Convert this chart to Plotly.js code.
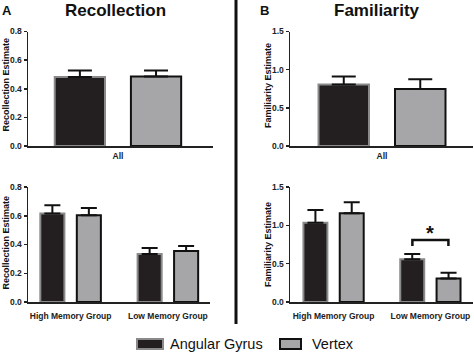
<!DOCTYPE html>
<html><head><meta charset="utf-8">
<script src="https://cdn.plot.ly/plotly-3.0.1.min.js"></script>
<style>body{margin:0;background:#fff}#c{width:474px;height:353px}</style>
</head><body><div id="c"></div>
<script>
// ---- data ----
const seriesNames = ["Angular Gyrus", "Vertex"];
const catAll = ["All"];
const catGroup = ["High Memory Group", "Low Memory Group"];
// Recollection, all
const recAllAG = [0.482];
const recAllV = [0.486];
const recAllErrAG = [0.046];
const recAllErrV = [0.042];
// Familiarity, all
const famAllAG = [0.805];
const famAllV = [0.747];
const famAllErrAG = [0.104];
const famAllErrV = [0.127];
// Recollection, by group
const recGrpAG = [0.615, 0.334];
const recGrpV = [0.603, 0.355];
const recGrpErrAG = [0.058, 0.042];
const recGrpErrV = [0.051, 0.035];
// Familiarity, by group
const famGrpAG = [1.035, 0.556];
const famGrpV = [1.158, 0.306];
const famGrpErrAG = [0.165, 0.069];
const famGrpErrV = [0.142, 0.074];

// ---- styles ----
const W = 474, H = 353;
const px = v => v / W, py = v => 1 - v / H;
const agStyle = {color: "#231f20", line: {color: "#8a8a8a", width: 2}};
const vStyle = {color: "#a6a6a8", line: {color: "#111", width: 2}};

function bars(x, y, err, name, style, xa, ya, capw) {
  return {
    type: "bar", x: x, y: y, name: name, xaxis: xa, yaxis: ya,
    marker: style, showlegend: false,
    error_y: {type: "data", array: err, arrayminus: err.map(() => 0), symmetric: false,
              color: "#111", thickness: 2, width: capw}
  };
}

const data = [
  bars(catAll, recAllAG, recAllErrAG, seriesNames[0], agStyle, "x", "y", 12),
  bars(catAll, recAllV, recAllErrV, seriesNames[1], vStyle, "x", "y", 12),
  bars(catAll, famAllAG, famAllErrAG, seriesNames[0], agStyle, "x2", "y2", 12),
  bars(catAll, famAllV, famAllErrV, seriesNames[1], vStyle, "x2", "y2", 12),
  bars(catGroup, recGrpAG, recGrpErrAG, seriesNames[0], agStyle, "x3", "y3", 8),
  bars(catGroup, recGrpV, recGrpErrV, seriesNames[1], vStyle, "x3", "y3", 8),
  bars(catGroup, famGrpAG, famGrpErrAG, seriesNames[0], agStyle, "x4", "y4", 8),
  bars(catGroup, famGrpV, famGrpErrV, seriesNames[1], vStyle, "x4", "y4", 8)
];

const fontB = "Liberation Sans, Arial, sans-serif";
function xax(domain, range, anchor, standoff) {
  return {domain: domain, range: range, anchor: anchor, type: "category",
    showline: true, linecolor: "#222", linewidth: 1.5, ticks: "", showgrid: false,
    zeroline: false, fixedrange: true, ticklabelstandoff: standoff,
    tickfont: {family: fontB, size: 8.5, color: "#222", weight: "bold"}};
}
function yax(domain, range, dtick, anchor) {
  return {domain: domain, range: range, dtick: dtick, tick0: 0, anchor: anchor,
    tickformat: ".1f", showline: true, linecolor: "#222", linewidth: 1.5,
    ticks: "outside", ticklen: 3, tickwidth: 1.5, tickcolor: "#222",
    showgrid: false, zeroline: false, fixedrange: true,
    tickfont: {family: fontB, size: 8.5, color: "#222", weight: "bold"}};
}

const topY = [py(146), py(31.5)];
const botY = [py(302), py(187)];

const ann = [];
function txt(x, y, t, size, bold, angle, xanchor) {
  ann.push({xref: "paper", yref: "paper", x: px(x), y: py(y), text: t, showarrow: false,
    textangle: angle || 0, xanchor: xanchor || "center", yanchor: "middle",
    font: {family: fontB, size: size, color: "#111", weight: bold ? "bold" : "normal"}});
}
txt(115, 11, "Recollection", 17, true);
txt(377, 11, "Familiarity", 17, true);
txt(0, 11, "A", 13, true, 0, "left");
txt(258, 11, "B", 13, true, 0, "left");
txt(5.5, 85, "Recollection Estimate", 9, true, -90);
txt(268, 86, "Familiarity Estimate", 9, true, -90);
txt(5.5, 243, "Recollection Estimate", 9, true, -90);
txt(268, 245, "Familiarity Estimate", 9, true, -90);
// significance star
ann.push({xref: "x4", yref: "y4", x: 1, y: 0.90, text: "*", showarrow: false,
  font: {family: fontB, size: 20, color: "#111", weight: "bold"}, yanchor: "middle"});
// legend text
txt(168, 344, seriesNames[0], 14.5, false, 0, "left");
txt(310, 344, seriesNames[1], 14.5, false, 0, "left");

const shapes = [
  // divider
  {type: "line", xref: "paper", yref: "paper", x0: px(236), x1: px(236), y0: py(0), y1: py(324),
   line: {color: "#111", width: 3}},
  // significance bracket
  {type: "path", xref: "x4", yref: "y4",
   path: "M 0.814,0.73 L 0.814,0.81 L 1.186,0.81 L 1.186,0.73",
   line: {color: "#111", width: 2.5}},
  // legend swatches
  {type: "rect", xref: "paper", yref: "paper", x0: px(137), x1: px(163), y0: py(349), y1: py(339),
   fillcolor: agStyle.color, line: {color: "#8a8a8a", width: 2}},
  {type: "rect", xref: "paper", yref: "paper", x0: px(280), x1: px(301), y0: py(349), y1: py(339),
   fillcolor: vStyle.color, line: {color: "#111", width: 2}}
];

const layout = {
  width: W, height: H, margin: {l: 0, r: 0, t: 0, b: 0},
  paper_bgcolor: "#fff", plot_bgcolor: "rgba(0,0,0,0)",
  barmode: "group", bargap: 0.25, bargroupgap: 0.34,
  showlegend: false,
  xaxis: xax([px(28), px(213)], [-0.443, 0.468], "y", 1),
  yaxis: yax(topY, [0, 0.8], 0.2, "x"),
  xaxis2: xax([px(290), px(473)], [-0.451, 0.446], "y2", 1),
  yaxis2: yax(topY, [0, 1.5], 0.5, "x2"),
  xaxis3: xax([px(28), px(210)], [-0.438, 1.433], "y3", 5),
  yaxis3: yax(botY, [0, 0.8], 0.2, "x3"),
  xaxis4: xax([px(290), px(473)], [-0.45, 1.44], "y4", 5),
  yaxis4: yax(botY, [0, 1.5], 0.5, "x4"),
  annotations: ann, shapes: shapes
};
Plotly.newPlot("c", data, layout, {displayModeBar: false, staticPlot: true});
</script></body></html>
